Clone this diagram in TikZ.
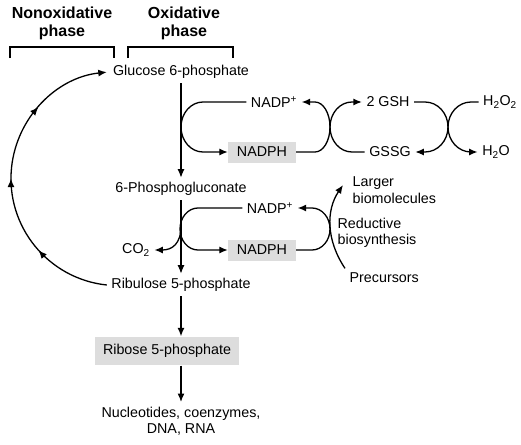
\documentclass[tikz,border=0pt]{standalone}
\usepackage{fontspec}
\setmainfont{Liberation Sans}
\usetikzlibrary{arrows.meta,decorations.markings}
\definecolor{boxgray}{RGB}{221,221,221}

\begin{document}
\begin{tikzpicture}[x=1pt,y=-1pt,line width=1.3pt,
	arr/.style={-{Latex[length=8.5pt,width=7pt]}},
	lbl/.style={font=\fontsize{14.3}{16.5}\selectfont,inner sep=4pt},
	grey/.style={lbl,fill=boxgray,inner xsep=8.5pt,minimum height=21pt},
	head/.style={font=\fontsize{16}{18}\selectfont\bfseries,align=center}]
	\useasboundingbox (0,0) rectangle (521,444);
	
	% phases
	\node[head] (nonox) at (62,23) {Nonoxidative\\phase};
	\node[head] (oxid) at (184,23) {Oxidative\\phase};
	\draw (10,58) -- (10,47) -- (114,47) -- (114,58);
	\draw (128,58) -- (128,47) -- (233,47) -- (233,58);
	
	% main path
	\node[lbl] (gluc) at (181,72) {Glucose 6-phosphate};
	\node[lbl] (pgl) at (181,189) {6-Phosphogluconate};
	\node[lbl] (ribu) at (181,285) {Ribulose 5-phosphate};
	\node[grey,inner xsep=8pt,minimum height=28pt] (ribo) at (167,351) {Ribose 5-phosphate};
	\node[lbl,align=center] (nucl) at (181,421) {Nucleotides, coenzymes,\\DNA, RNA};
	\node[lbl] (co2) at (136,250) {CO\textsubscript{2}};
	\coordinate (split) at (181,226);
	
	\draw[arr] (gluc.south) -- (pgl.north);
	\draw[arr] (pgl.south) -- (ribu.north);
	\draw[arr] (ribu.south) -- (ribu.south |- ribo.north);
	\draw[arr] (nucl.north |- ribo.south) -- (nucl.north);
	\draw[arr] (split) .. controls (181,244) and (172,250) .. (co2.east);
	
	% back to glucose
	\draw[arr,postaction={decorate},decoration={markings,
		mark=at position 0.25 with {\arrow{Latex[length=8.5pt,width=7pt]}},
		mark=at position 0.5 with {\arrow{Latex[length=8.5pt,width=7pt]}},
		mark=at position 0.75 with {\arrow{Latex[length=8.5pt,width=7pt]}}}]
		(ribu.west) arc[start angle=96,end angle=264,radius=107];
	
	% glutathione
	\node[lbl] (nadpA) at (274,102) {NADP\textsuperscript{+}};
	\node[grey] (nadphA) at (262,152) {NADPH};
	\node[lbl] (gsh) at (388,102) {2 GSH};
	\node[lbl] (gssg) at (390,152) {GSSG};
	\node[lbl] (hoo) at (500,102) {H\textsubscript{2}O\textsubscript{2}};
	\node[lbl] (hwater) at (496,152) {H\textsubscript{2}O};
	
	\draw[arr] (nadpA.west) -- (203,102) arc[start angle=270,end angle=90,x radius=22,y radius=25] -- (nadphA.west);
	\draw[arr] (nadphA.east) -- (315,152) arc[start angle=90,end angle=-90,x radius=15,y radius=25] -- (nadpA.east);
	\draw[arr] (gssg.west) -- (352,152) arc[start angle=90,end angle=270,x radius=22,y radius=25] -- (gsh.west);
	\draw[arr] (gsh.east) -- (425,102) arc[start angle=-90,end angle=90,x radius=23,y radius=25] -- (gssg.east);
	\draw[arr] (hoo.west) -- (471,102) arc[start angle=270,end angle=90,x radius=23,y radius=25] -- (hwater.west);
	
	% biosynthesis
	\node[lbl] (nadpB) at (270,208) {NADP\textsuperscript{+}};
	\node[grey] (nadphB) at (262,250) {NADPH};
	\node[lbl,anchor=west,align=left] (larger) at (348,190) {Larger\\biomolecules};
	\node[lbl,anchor=west,align=left] (redu) at (333,233) {Reductive\\biosynthesis};
	\node[lbl,anchor=west] (prec) at (345,278) {Precursors};
	
	\draw[arr] (nadpB.west) -- (198,208) arc[start angle=270,end angle=90,x radius=18,y radius=21] -- (nadphB.west);
	\draw[arr] (nadphB.east) -- (312,250) arc[start angle=90,end angle=-90,x radius=18,y radius=21] -- (nadpB.east);
	\draw[arr] (prec.north west) .. controls (326,240) and (326,210) .. ([shift={(-5,-5)}]larger.west);
\end{tikzpicture}
\end{document}
